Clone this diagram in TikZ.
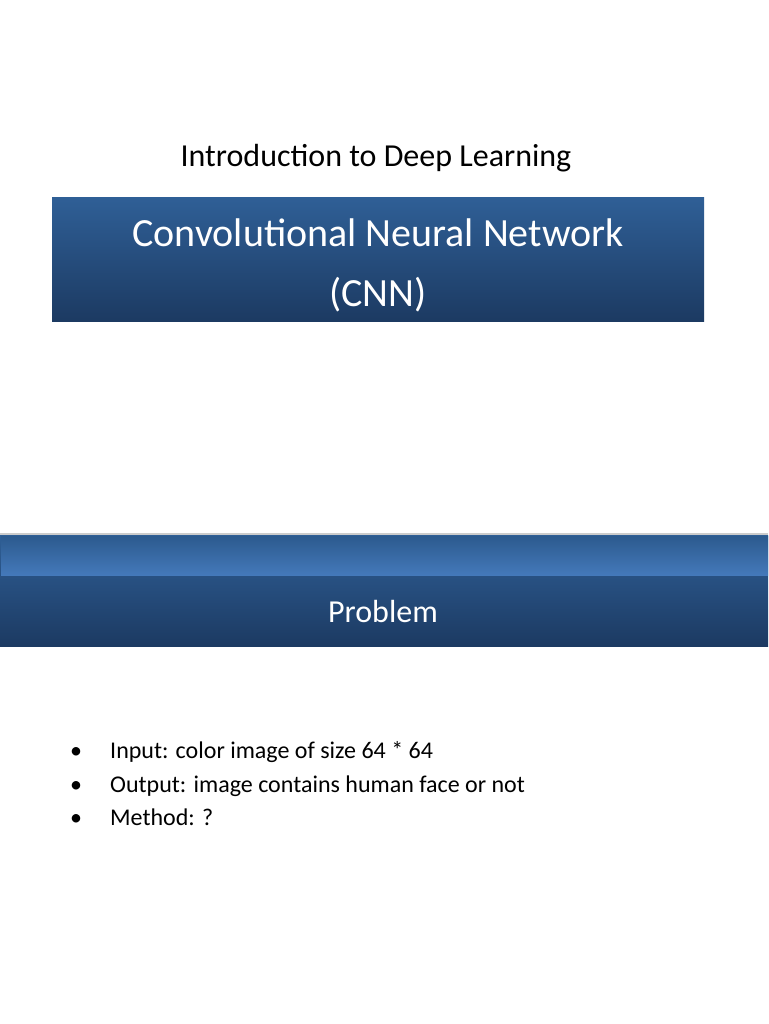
\documentclass[tikz,border=0pt]{standalone}
\usepackage{fontspec}
\setmainfont{Carlito}
\begin{document}
\begin{tikzpicture}[x=1pt,y=-1pt,
  txt/.style={inner sep=0pt,anchor=base},
  bul/.style={inner sep=0pt,anchor=base west,font=\fontsize{24}{28}\selectfont}]
\definecolor{btop}{HTML}{2F5F96}\definecolor{bbot}{HTML}{1C3A62}
\definecolor{ltop}{HTML}{2C5A8E}\definecolor{lbot}{HTML}{4479BA}
\useasboundingbox[fill=white] (0,0) rectangle (768,1024);
\node[txt,font=\fontsize{32}{38}\selectfont] (t) at (376,167) {Introduction to Deep Learning};
\shade[top color=btop,bottom color=bbot] (52,198) rectangle (704,321);
\node[txt,text=white,align=center,font=\fontsize{40}{60}\selectfont] (c1) at (378,246) {Convolutional Neural Network};
\node[txt,text=white,font=\fontsize{40}{60}\selectfont] (c2) at (378,306) {(CNN)};
\fill[gray!40] (0,533) rectangle (768,535);
\shade[top color=btop,bottom color=bbot] (0,535) rectangle (768,646);
\shade[top color=ltop,bottom color=lbot] (1,536) rectangle (768,575);
\node[txt,text=white,font=\fontsize{32}{38}\selectfont] (p) at (383,622) {Problem};
\foreach \y/\s [count=\i] in {758/{Input: color image of size 64 * 64},792/{Output: image contains human face or not},825/{Method: ?}}{
  \node[bul] (d\i) at (70,\y) {\textbullet};
  \node[bul] (b\i) at (110,\y) {\s};
}
\end{tikzpicture}
\end{document}
